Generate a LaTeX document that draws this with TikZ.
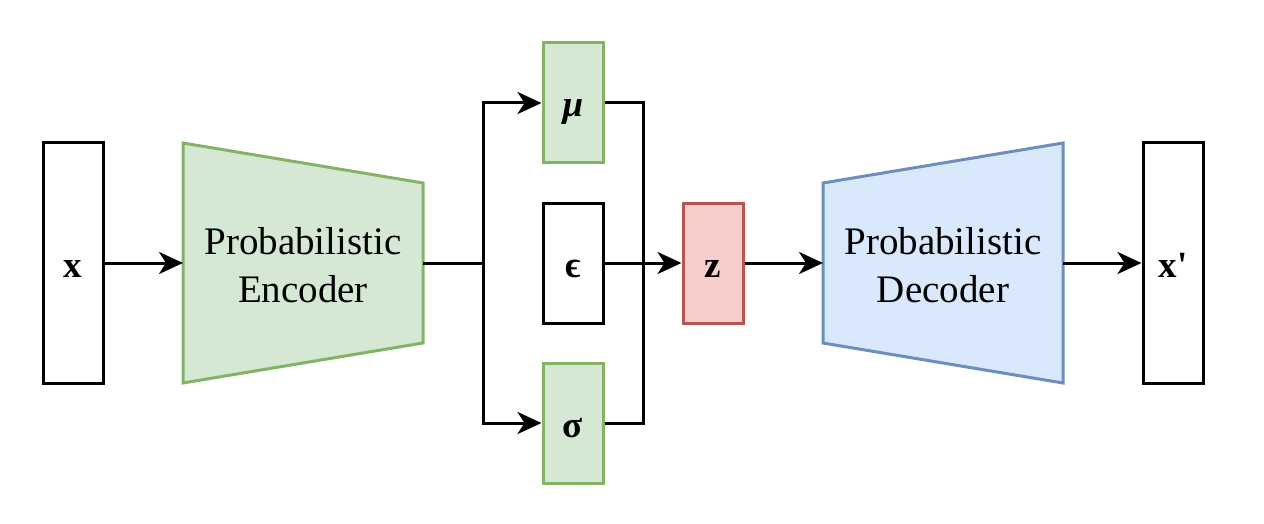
\documentclass[tikz,border=0pt]{standalone}
\usepackage{fontspec}
\setmainfont{Liberation Serif}
\usetikzlibrary{arrows.meta}
\definecolor{gfill}{HTML}{D5E8D4}
\definecolor{gline}{HTML}{82B366}
\definecolor{bfill}{HTML}{DAE8FC}
\definecolor{bline}{HTML}{6C8EBF}
\definecolor{rfill}{HTML}{F8CECC}
\definecolor{rline}{HTML}{B85450}
\tikzset{
  box/.style={draw=black, fill=white, line width=3pt, minimum width=60pt, inner sep=0pt,
    text height=28pt, text depth=0pt,
    font=\fontsize{37}{40}\selectfont\bfseries},
  tall/.style={box, minimum height=240pt},
  short/.style={box, minimum height=120pt},
  green/.style={draw=gline, fill=gfill},
  red/.style={draw=rline, fill=rfill},
  wire/.style={line width=3pt, draw=black},
  arr/.style={wire, -{Stealth[length=24pt, width=22pt, inset=7pt]}},
  trap/.style={line width=3pt},
  label/.style={align=center, font=\fontsize{39}{48}\selectfont}
}
\begin{document}
\begin{tikzpicture}[x=1pt, y=-1pt]
\useasboundingbox (0,0) rectangle (1264,524);
% input
\node[tall] (x) at (73,263) {x};
% encoder
\draw[trap, draw=gline, fill=gfill] (183,143) -- (423,183) -- (423,343) -- (183,383) -- cycle;
\coordinate (encL) at (183,263);
\coordinate (encR) at (423,263);
\node[label] (enc) at (303,265) {Probabilistic\\Encoder};
% latent params
\node[short, green] (mu) at (573,103) {\itshape μ};
\node[short] (eps) at (573,263) {ϵ};
\node[short, green] (sig) at (573,423) {σ};
\node[short, red] (z) at (713,263) {z};
% decoder
\draw[trap, draw=bline, fill=bfill] (823,183) -- (1063,143) -- (1063,383) -- (823,343) -- cycle;
\coordinate (decL) at (823,263);
\coordinate (decR) at (1063,263);
\node[label] (dec) at (943,265) {Probabilistic\\Decoder};
% output
\node[tall] (xp) at (1173,263) {x\textquotesingle};
% connectors
\coordinate (j) at (483,263);
\coordinate (k) at (643,263);
\draw[arr] (x.east) -- (encL);
\draw[wire] (encR) -- (j);
\draw[arr] (j) |- (mu.west);
\draw[arr] (j) |- (sig.west);
\draw[wire] (mu.east) -| (k);
\draw[wire] (sig.east) -| (k);
\draw[arr] (eps.east) -- (z.west);
\draw[arr] (z.east) -- (decL);
\draw[arr] (decR) -- (xp.west);
\end{tikzpicture}
\end{document}
